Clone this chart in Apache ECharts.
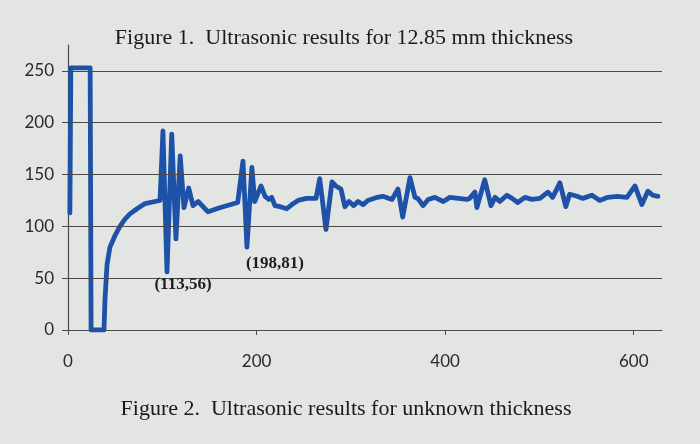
<!DOCTYPE html>
<html>
<head>
<meta charset="utf-8">
<script src="https://cdn.jsdelivr.net/npm/echarts@6/dist/echarts.min.js"></script>
<style>
html,body{margin:0;padding:0;background:#e3e5e2;}
#c{width:700px;height:444px;}
</style>
</head>
<body>
<div id="c"></div>
<script>
// Sample positions (x) and signal amplitudes (y)
const xs = [2, 3, 23.5, 24.5, 38.2, 39.2, 41.4, 44.5, 49.8, 55.1, 60.4, 65.7, 73.2, 81.7, 92.3, 97.6,
  100.7, 105, 110, 114.5, 119, 123, 128, 132.6, 138, 148.5, 161, 180,
  185.6, 189.8, 195, 198, 204.7, 209, 213, 216, 219.5, 225, 232, 237.5, 244, 253, 263,
  267, 273.6, 280, 284, 289.5, 293.7, 298, 303, 307.5, 313, 318, 328, 334, 343.6,
  350, 355, 362.7, 368, 371, 376.5, 382, 389, 398, 405, 414, 423, 426,
  431.6, 433.7, 442, 448.6, 453, 458, 465.5, 471, 477, 484.6, 492, 500.5,
  509, 514, 521.7, 528, 532, 540, 546, 555.7, 564, 572.6, 582, 592.8,
  601.3, 608.7, 615, 620.4, 625.7];
const ys = [113, 253, 253, 0, 0, 29, 63, 80, 91, 100, 107, 112, 117, 122, 124, 125,
  192, 56, 189, 88, 168, 118, 137, 120, 124, 114, 118, 123,
  163, 80, 157, 124, 139, 129, 126, 128, 120, 119, 117, 121, 125, 127, 127,
  146, 97, 143, 139, 136, 119, 124, 120, 124, 121, 125, 128, 129, 126,
  136, 109, 147, 128, 127, 120, 126, 128, 124, 128, 127, 126, 127,
  133, 118, 145, 120, 128, 124, 130, 127, 123, 128, 126, 127,
  133, 128, 142, 119, 131, 129, 127, 130, 125, 128, 129, 128,
  139, 121, 134, 130, 129];
const xTicks = [0, 200, 400, 600];
const yTicks = [0, 50, 100, 150, 200, 250];
const notes = [{x: 105, y: 56, text: '(113,56)'}, {x: 189.8, y: 80, text: '(198,81)'}];
const title1 = 'Figure 1.  Ultrasonic results for 12.85 mm thickness';
const title2 = 'Figure 2.  Ultrasonic results for unknown thickness';

const data = xs.map((x, i) => [x, ys[i]]);
const chart = echarts.init(document.getElementById('c'));
chart.setOption({
  backgroundColor: '#e3e5e2',
  animation: false,
  title: [
    {text: title1, left: 339, top: 22, textAlign: 'center',
     textStyle: {fontFamily: 'Liberation Serif', fontSize: 22, fontWeight: 'normal', color: '#1a1a1a'}},
    {text: title2, left: 341, top: 393, textAlign: 'center',
     textStyle: {fontFamily: 'Liberation Serif', fontSize: 22, fontWeight: 'normal', color: '#1a1a1a'}}
  ],
  grid: {left: 68, right: 38, top: 45, bottom: 114, containLabel: false},
  xAxis: {
    type: 'value', min: 0, max: 630,
    axisLine: {show: true, lineStyle: {color: '#4a4a4a', width: 1.2}},
    axisTick: {show: true, customValues: xTicks, length: 5, inside: false, lineStyle: {color: '#4a4a4a'}},
    axisLabel: {customValues: xTicks, margin: 23, color: '#2a2a2a', fontFamily: 'Lato', fontSize: 17},
    splitLine: {show: false}
  },
  yAxis: {
    type: 'value', min: 0, max: 275,
    axisLine: {show: true, lineStyle: {color: '#4a4a4a', width: 1.2}},
    axisTick: {show: true, customValues: yTicks, length: 6, lineStyle: {color: '#4a4a4a'}},
    axisLabel: {customValues: yTicks, margin: 14, color: '#2a2a2a', fontFamily: 'Lato', fontSize: 17},
    splitLine: {show: false}
  },
  series: [{
    type: 'line', data: data, showSymbol: false, smooth: false,
    lineStyle: {color: '#1d52a8', width: 4.8, join: 'round', cap: 'round'},
    markLine: {
      silent: true, symbol: ['none', 'none'], animation: false,
      label: {show: false},
      lineStyle: {color: '#4a4a4a', type: 'solid', width: 1.2},
      data: yTicks.filter(v => v > 0).map(v => ({yAxis: v}))
    },
    markPoint: {
      symbol: 'circle', symbolSize: 0.1,
      data: notes.map((n, i) => ({
        coord: [n.x, n.y],
        label: {show: true, formatter: n.text, position: 'inside',
          offset: i === 0 ? [16, 13] : [28, 17],
          fontFamily: 'Liberation Serif', fontWeight: 'bold', fontSize: 17, color: '#1e1e1e'}
      }))
    },
    z: 3
  }]
});
</script>
</body>
</html>
